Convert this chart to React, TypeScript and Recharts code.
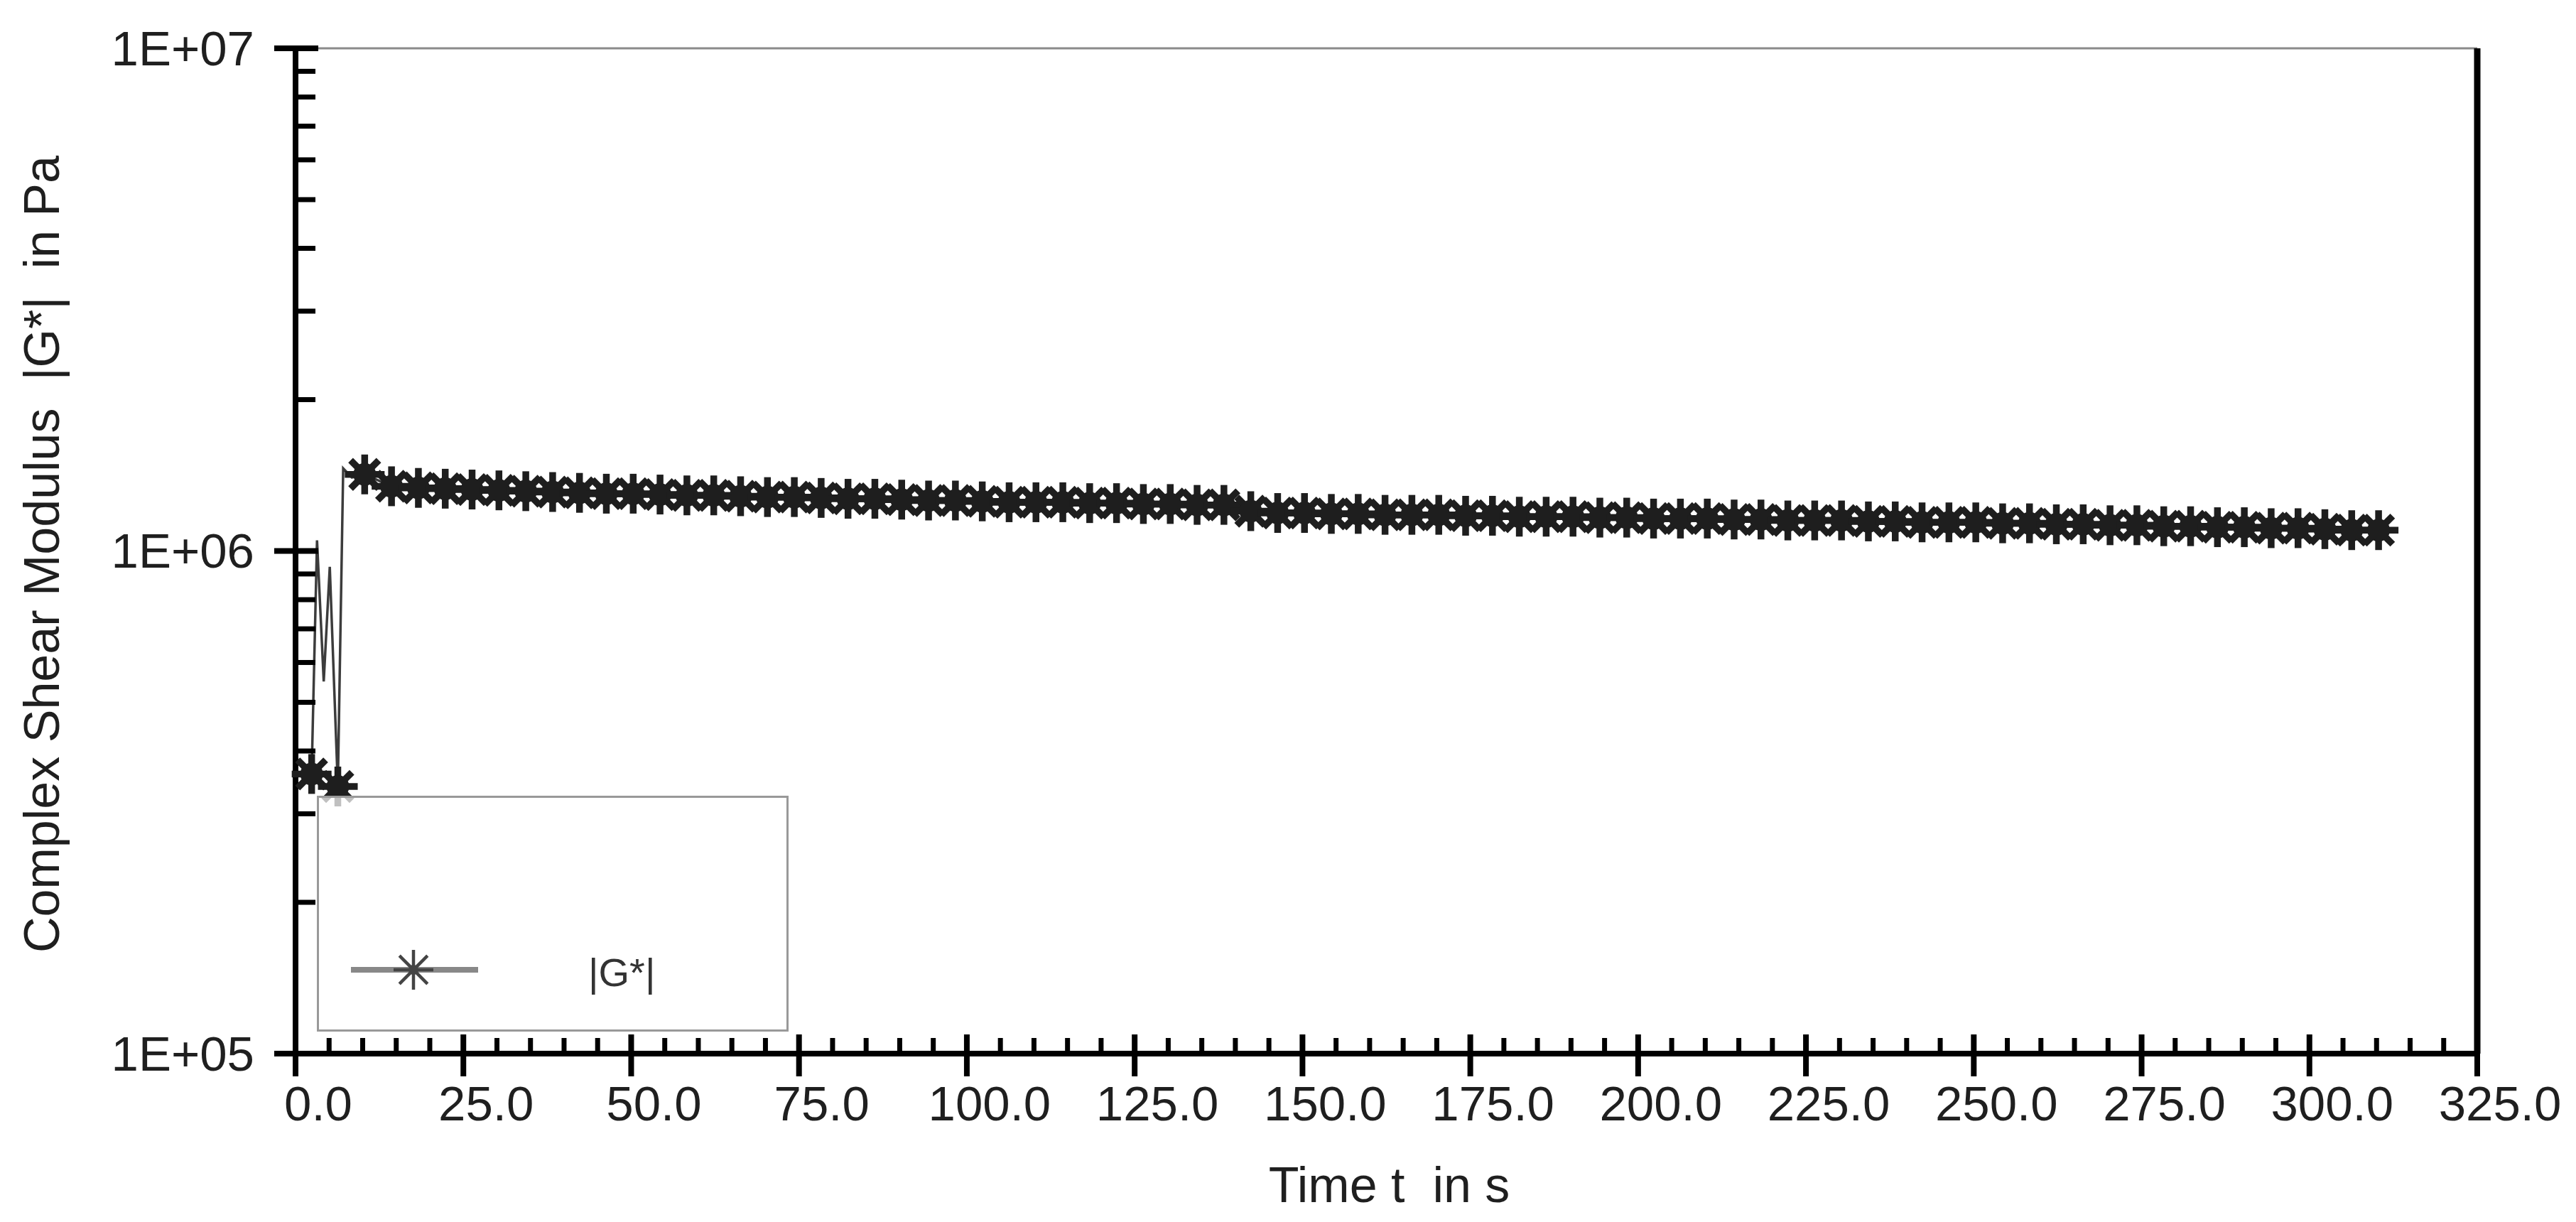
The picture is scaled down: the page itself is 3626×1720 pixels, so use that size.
import React from "react";
import { LineChart, Line, XAxis, YAxis, ReferenceLine, Legend, Label } from "recharts";

// time of each reading in s
const TIME_S = [
  2.4, 3.2, 4.2, 5.1, 6.3, 7.1, 8.4, 10.3,
  14.3, 18.3, 22.3, 26.3, 30.3, 34.3, 38.3, 42.3, 46.3, 50.3,
  54.3, 58.3, 62.3, 66.3, 70.3, 74.3, 78.3, 82.3, 86.3, 90.3,
  94.3, 98.3, 102.3, 106.3, 110.3, 114.3, 118.3, 122.3, 126.3, 130.3,
  134.3, 138.3, 142.3, 146.3, 150.3, 154.3, 158.3, 162.3, 166.3, 170.3,
  174.3, 178.3, 182.3, 186.3, 190.3, 194.3, 198.3, 202.3, 206.3, 210.3,
  214.3, 218.3, 222.3, 226.3, 230.3, 234.3, 238.3, 242.3, 246.3, 250.3,
  254.3, 258.3, 262.3, 266.3, 270.3, 274.3, 278.3, 282.3, 286.3, 290.3,
  294.3, 298.3, 302.3, 306.3, 310.3,
];

// complex shear modulus |G*| in Pa
const G_STAR_PA = [
  3.6e5, 1.05e6, 5.5e5, 9.3e5, 3.4e5, 1.46e6, 1.4e6, 1.42e6,
  1.345e6, 1.335e6, 1.33e6, 1.325e6, 1.32e6, 1.315e6, 1.31e6, 1.305e6, 1.3e6, 1.3e6,
  1.295e6, 1.29e6, 1.29e6, 1.285e6, 1.28e6, 1.28e6, 1.275e6, 1.27e6, 1.27e6, 1.265e6,
  1.26e6, 1.26e6, 1.255e6, 1.25e6, 1.25e6, 1.25e6, 1.245e6, 1.245e6, 1.24e6, 1.24e6,
  1.235e6, 1.235e6, 1.2e6, 1.19e6, 1.19e6, 1.185e6, 1.185e6, 1.18e6, 1.18e6, 1.18e6,
  1.175e6, 1.175e6, 1.17e6, 1.17e6, 1.17e6, 1.165e6, 1.165e6, 1.16e6, 1.16e6, 1.16e6,
  1.155e6, 1.155e6, 1.15e6, 1.15e6, 1.15e6, 1.145e6, 1.145e6, 1.14e6, 1.14e6, 1.14e6,
  1.135e6, 1.135e6, 1.13e6, 1.13e6, 1.125e6, 1.125e6, 1.12e6, 1.12e6, 1.115e6, 1.115e6,
  1.11e6, 1.11e6, 1.105e6, 1.1e6, 1.1e6,
];

// readings drawn without a symbol (the transient at the start)
const UNMARKED = [1, 2, 3, 5, 6];

const X_MAJOR = [0, 25, 50, 75, 100, 125, 150, 175, 200, 225, 250, 275, 300, 325];
const Y_MAJOR = [1e5, 1e6, 1e7];

const X_TICKS = X_MAJOR.flatMap((v, i) =>
  i === X_MAJOR.length - 1 ? [v] : [v, v + 5, v + 10, v + 15, v + 20]
);
const Y_TICKS = [1e5, 1e6].flatMap((d) => [1, 2, 3, 4, 5, 6, 7, 8, 9].map((m) => m * d)).concat([1e7]);

const data = TIME_S.map((t, i) => ({ t, g: G_STAR_PA[i] }));

const FONT = "'Liberation Sans', Arial, sans-serif";
const TEXT = "#1f1f1f";

const fmtExp = (v: number) => `1E+${String(Math.round(Math.log10(v))).padStart(2, "0")}`;

const Asterisk = ({ cx, cy, r, color, w, core }: any) => {
  const d = r * 0.707;
  return (
    <g stroke={color} strokeWidth={w}>
      <line x1={cx - r} y1={cy} x2={cx + r} y2={cy} />
      <line x1={cx} y1={cy - r} x2={cx} y2={cy + r} />
      <line x1={cx - d} y1={cy - d} x2={cx + d} y2={cy + d} />
      <line x1={cx - d} y1={cy + d} x2={cx + d} y2={cy - d} />
      {core > 0 && <circle cx={cx} cy={cy} r={core} fill={color} stroke="none" />}
    </g>
  );
};

const renderDot = (props: any) => {
  const { cx, cy, index } = props;
  if (UNMARKED.includes(index) || cx == null || cy == null) return <g key={`d-${index}`} />;
  return (
    <g key={`d-${index}`}>
      <Asterisk cx={cx} cy={cy} r={28} color="#1e1e1e" w={9.5} core={16} />
    </g>
  );
};

const YTick = ({ x, y, payload }: any) => {
  const major = Y_MAJOR.includes(payload.value);
  return (
    <g>
      {major ? (
        <line x1={x - 30} x2={x + 32} y1={y} y2={y} stroke="#000" strokeWidth={8} />
      ) : (
        <line x1={x} x2={x + 28} y1={y} y2={y} stroke="#000" strokeWidth={7} />
      )}
      {major && (
        <text x={x - 58} y={y} textAnchor="end" dominantBaseline="central" fontSize={69} fontFamily={FONT} fill={TEXT}>
          {fmtExp(payload.value)}
        </text>
      )}
    </g>
  );
};

const XTick = ({ x, y, payload }: any) => {
  const major = X_MAJOR.includes(payload.value);
  return (
    <g>
      {major ? (
        <line x1={x} x2={x} y1={y - 27} y2={y + 32} stroke="#000" strokeWidth={8} />
      ) : (
        <line x1={x} x2={x} y1={y - 22} y2={y} stroke="#000" strokeWidth={7} />
      )}
      {major && (
        <text x={x + 32} y={y + 70} textAnchor="middle" dominantBaseline="central" fontSize={69} fontFamily={FONT} fill={TEXT}>
          {payload.value.toFixed(1)}
        </text>
      )}
    </g>
  );
};

const LegendBox = () => (
  <svg width={664} height={332} style={{ display: "block" }}>
    <rect x={1.5} y={1.5} width={661} height={329} fill="rgba(255,255,255,0.72)" stroke="#999" strokeWidth={3} />
    <line x1={48} x2={227} y1={245} y2={245} stroke="#888" strokeWidth={8} />
    <Asterisk cx={136} cy={245} r={28} color="#444" w={4.5} core={7} />
    <text x={382} y={248} dominantBaseline="central" fontSize={56} fontFamily={FONT} fill="#333">
      |G*|
    </text>
  </svg>
);

export default function App() {
  return (
    <div style={{ width: 3610, height: 1704, fontFamily: FONT }}>
      <LineChart width={3610} height={1704} data={data} margin={{ top: 60, right: 131, bottom: 0, left: 8 }}>
        <XAxis
          dataKey="t"
          type="number"
          domain={[0, 325]}
          ticks={X_TICKS}
          interval={0}
          tickSize={0}
          tickMargin={0}
          tickLine={false}
          tick={<XTick />}
          axisLine={{ stroke: "#000", strokeWidth: 8 }}
          height={229}
        >
          <Label
            content={({ viewBox }: any) => (
              <text
                x={viewBox.x + viewBox.width / 2 + 4}
                y={viewBox.y + 185}
                textAnchor="middle"
                dominantBaseline="central"
                fontSize={70}
                fontFamily={FONT}
                fill={TEXT}
                style={{ whiteSpace: "pre" }}
              >
                {"Time t  in s"}
              </text>
            )}
          />
        </XAxis>
        <YAxis
          type="number"
          scale="log"
          domain={[1e5, 1e7]}
          allowDataOverflow
          ticks={Y_TICKS}
          interval={0}
          tickSize={0}
          tickMargin={0}
          tickLine={false}
          tick={<YTick />}
          axisLine={{ stroke: "#000", strokeWidth: 8 }}
          width={400}
        >
          <Label
            content={({ viewBox }: any) => {
              const cx = viewBox.x + 67;
              const cy = viewBox.y + 712;
              return (
                <text
                  x={cx}
                  y={cy}
                  transform={`rotate(-90, ${cx}, ${cy})`}
                  textAnchor="middle"
                  fontSize={70}
                  fontFamily={FONT}
                  fill={TEXT}
                  style={{ whiteSpace: "pre" }}
                >
                  {"Complex Shear Modulus  |G*|  in Pa"}
                </text>
              );
            }}
          />
        </YAxis>
        <ReferenceLine y={1e7} stroke="#8a8a8a" strokeWidth={3} />
        <ReferenceLine x={325} stroke="#000" strokeWidth={9} />
        <Line
          dataKey="g"
          type="linear"
          stroke="#3c3c3c"
          strokeWidth={3.5}
          dot={renderDot}
          activeDot={false}
          isAnimationActive={false}
        />
        <Legend
          layout="horizontal"
          verticalAlign="middle"
          align="center"
          content={() => <LegendBox />}
          wrapperStyle={{ left: 438, top: 1112, width: 664, height: 332 }}
        />
      </LineChart>
    </div>
  );
}
